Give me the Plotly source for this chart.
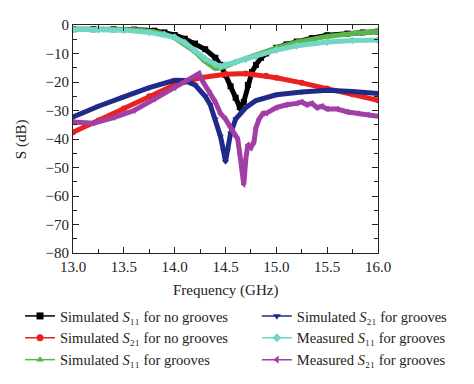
import plotly.graph_objects as go

# Simulated S11, no grooves
f_s11_ng = [13.0,13.2,13.4,13.6,13.8,13.9,14.0,14.1,14.2,14.3,14.4,14.45,14.5,14.55,14.6,14.64,14.68,14.72,14.76,14.8,14.85,14.9,15.0,15.1,15.2,15.35,15.5,15.7,15.85,16.0]
s_s11_ng = [-1.5,-1.5,-1.5,-1.6,-2.0,-2.6,-3.5,-4.8,-6.5,-8.5,-11.5,-14.0,-17.5,-21.5,-25.5,-28.8,-27.0,-21.0,-16.5,-14.0,-11.5,-10.0,-8.0,-6.8,-5.8,-4.6,-3.6,-3.0,-2.6,-2.3]
# Simulated S21, no grooves
f_s21_ng = [13.0,13.25,13.5,13.75,14.0,14.25,14.5,14.7,14.9,15.0,15.25,15.5,15.75,16.0]
s_s21_ng = [-37.6,-33.5,-29.3,-25.0,-21.0,-18.5,-17.3,-17.0,-17.8,-18.5,-20.3,-22.3,-24.3,-26.4]
# Simulated S11, grooves
f_s11_g = [13.0,13.3,13.6,13.8,13.9,14.0,14.1,14.2,14.3,14.4,14.45,14.5,14.6,14.8,15.0,15.2,15.5,15.75,16.0]
s_s11_g = [-1.5,-1.5,-1.7,-2.4,-3.2,-4.5,-6.8,-9.4,-12.8,-15.3,-15.0,-14.5,-13.0,-10.5,-8.0,-6.0,-4.0,-3.0,-2.3]
# Simulated S21, grooves
f_s21_g = [13.0,13.25,13.5,13.75,14.0,14.1,14.2,14.3,14.35,14.4,14.45,14.48,14.5,14.52,14.55,14.6,14.7,14.8,15.0,15.25,15.5,15.75,16.0]
s_s21_g = [-32.3,-28.5,-25.2,-22.0,-19.4,-19.5,-21.0,-25.0,-28.0,-33.0,-39.0,-44.0,-48.0,-44.0,-38.0,-33.0,-29.0,-26.5,-24.5,-23.5,-22.9,-23.3,-24.0]
# Measured S11, grooves
f_m11_g = [13.0,13.25,13.5,13.75,13.9,14.0,14.1,14.2,14.3,14.4,14.45,14.5,14.6,14.7,14.8,15.0,15.2,15.5,15.75,16.0]
s_m11_g = [-1.5,-1.6,-1.8,-2.6,-3.4,-4.3,-6.2,-9.0,-11.8,-13.8,-14.5,-14.0,-13.0,-12.0,-11.0,-8.8,-7.3,-6.0,-5.4,-5.3]
# Measured S21, grooves
f_m21_g = [13.0,13.2,13.4,13.6,13.8,14.0,14.1,14.2,14.24,14.28,14.35,14.4,14.45,14.5,14.55,14.6,14.62,14.64,14.66,14.68,14.7,14.72,14.75,14.78,14.8,14.83,14.87,14.9,15.0,15.1,15.2,15.25,15.3,15.35,15.4,15.45,15.5,15.6,15.7,15.8,15.9,16.0]
s_m21_g = [-34.0,-34.5,-32.5,-30.0,-26.0,-22.0,-20.0,-18.0,-17.0,-20.0,-24.0,-27.0,-31.0,-33.0,-36.0,-39.0,-40.0,-45.0,-50.0,-56.0,-47.0,-42.0,-43.0,-41.0,-36.0,-33.0,-31.0,-31.0,-29.0,-28.0,-27.5,-27.0,-28.0,-27.5,-29.0,-28.5,-29.5,-29.5,-30.5,-31.0,-31.5,-32.0]

x_title = "Frequency (GHz)"
y_title = "S (dB)"

series = [
    ("Simulated <i>S</i>₁₁ for no grooves", f_s11_ng, s_s11_ng, "#000000", "square", "legend"),
    ("Simulated <i>S</i>₂₁ for no grooves", f_s21_ng, s_s21_ng, "#e8231f", "circle", "legend"),
    ("Simulated <i>S</i>₁₁ for grooves", f_s11_g, s_s11_g, "#58b64a", "triangle-up", "legend"),
    ("Simulated <i>S</i>₂₁ for grooves", f_s21_g, s_s21_g, "#1f2a8a", "triangle-down", "legend2"),
    ("Measured <i>S</i>₁₁ for grooves", f_m11_g, s_m11_g, "#72d6c4", "diamond", "legend2"),
    ("Measured <i>S</i>₂₁ for grooves", f_m21_g, s_m21_g, "#a23ea7", "triangle-left", "legend2"),
]

fig = go.Figure()
for i, (name, x, y, c, sym, lg) in enumerate(series):
    fig.add_trace(go.Scatter(
        x=x, y=y, name=name, mode="lines+markers", legend=lg,
        legendgroup=f"g{i}", showlegend=False,
        line=dict(color=c, width=5),
        marker=dict(color=c, symbol=sym, size=6),
    ))
# legend entries (thin line + marker, as in the original key)
for i, (name, x, y, c, sym, lg) in enumerate(series):
    fig.add_trace(go.Scatter(
        x=[None], y=[None], name=name, mode="lines+markers", legend=lg,
        legendgroup=f"g{i}", showlegend=True,
        line=dict(color=c, width=1.5),
        marker=dict(color=c, symbol=sym, size=7),
    ))

font = dict(family="Liberation Serif, Times New Roman, serif", size=15, color="#222222")
lfont = dict(family="Liberation Serif, Times New Roman, serif", size=14.5, color="#222222")
axis_common = dict(
    showline=True, linecolor="#222222", linewidth=1.2, mirror="allticks",
    ticks="inside", ticklen=6, tickcolor="#222222", showgrid=False, zeroline=False,
    tickfont=font, automargin=False,
)
fig.update_layout(
    width=466, height=376,
    margin=dict(l=65, r=96, t=17, b=131, autoexpand=False),
    paper_bgcolor="white", plot_bgcolor="white",
    font=font,
    xaxis=dict(range=[13.0, 16.0], dtick=0.5, tickformat=".1f",
               minor=dict(dtick=0.25, ticks="inside", ticklen=4, tickcolor="#222222"),
               **axis_common),
    yaxis=dict(range=[-80, 0], dtick=10,
               minor=dict(dtick=5, ticks="inside", ticklen=4, tickcolor="#222222"),
               **axis_common),
    legend=dict(xref="container", yref="container", x=0.0258, y=0.2234,
                xanchor="left", yanchor="top", bgcolor="rgba(0,0,0,0)",
                font=lfont, tracegroupgap=0, itemwidth=30),
    legend2=dict(xref="container", yref="container", x=0.534, y=0.2234,
                 xanchor="left", yanchor="top", bgcolor="rgba(0,0,0,0)",
                 font=lfont, tracegroupgap=0, itemwidth=30),
    annotations=[
        dict(text=x_title, xref="paper", yref="paper", x=0.5, y=-0.165,
             xanchor="center", yanchor="middle", showarrow=False, font=font),
        dict(text=y_title, xref="paper", yref="paper", x=-0.17, y=0.5, textangle=-90,
             xanchor="center", yanchor="middle", showarrow=False, font=font),
    ],
)
fig.write_html("out.html")
